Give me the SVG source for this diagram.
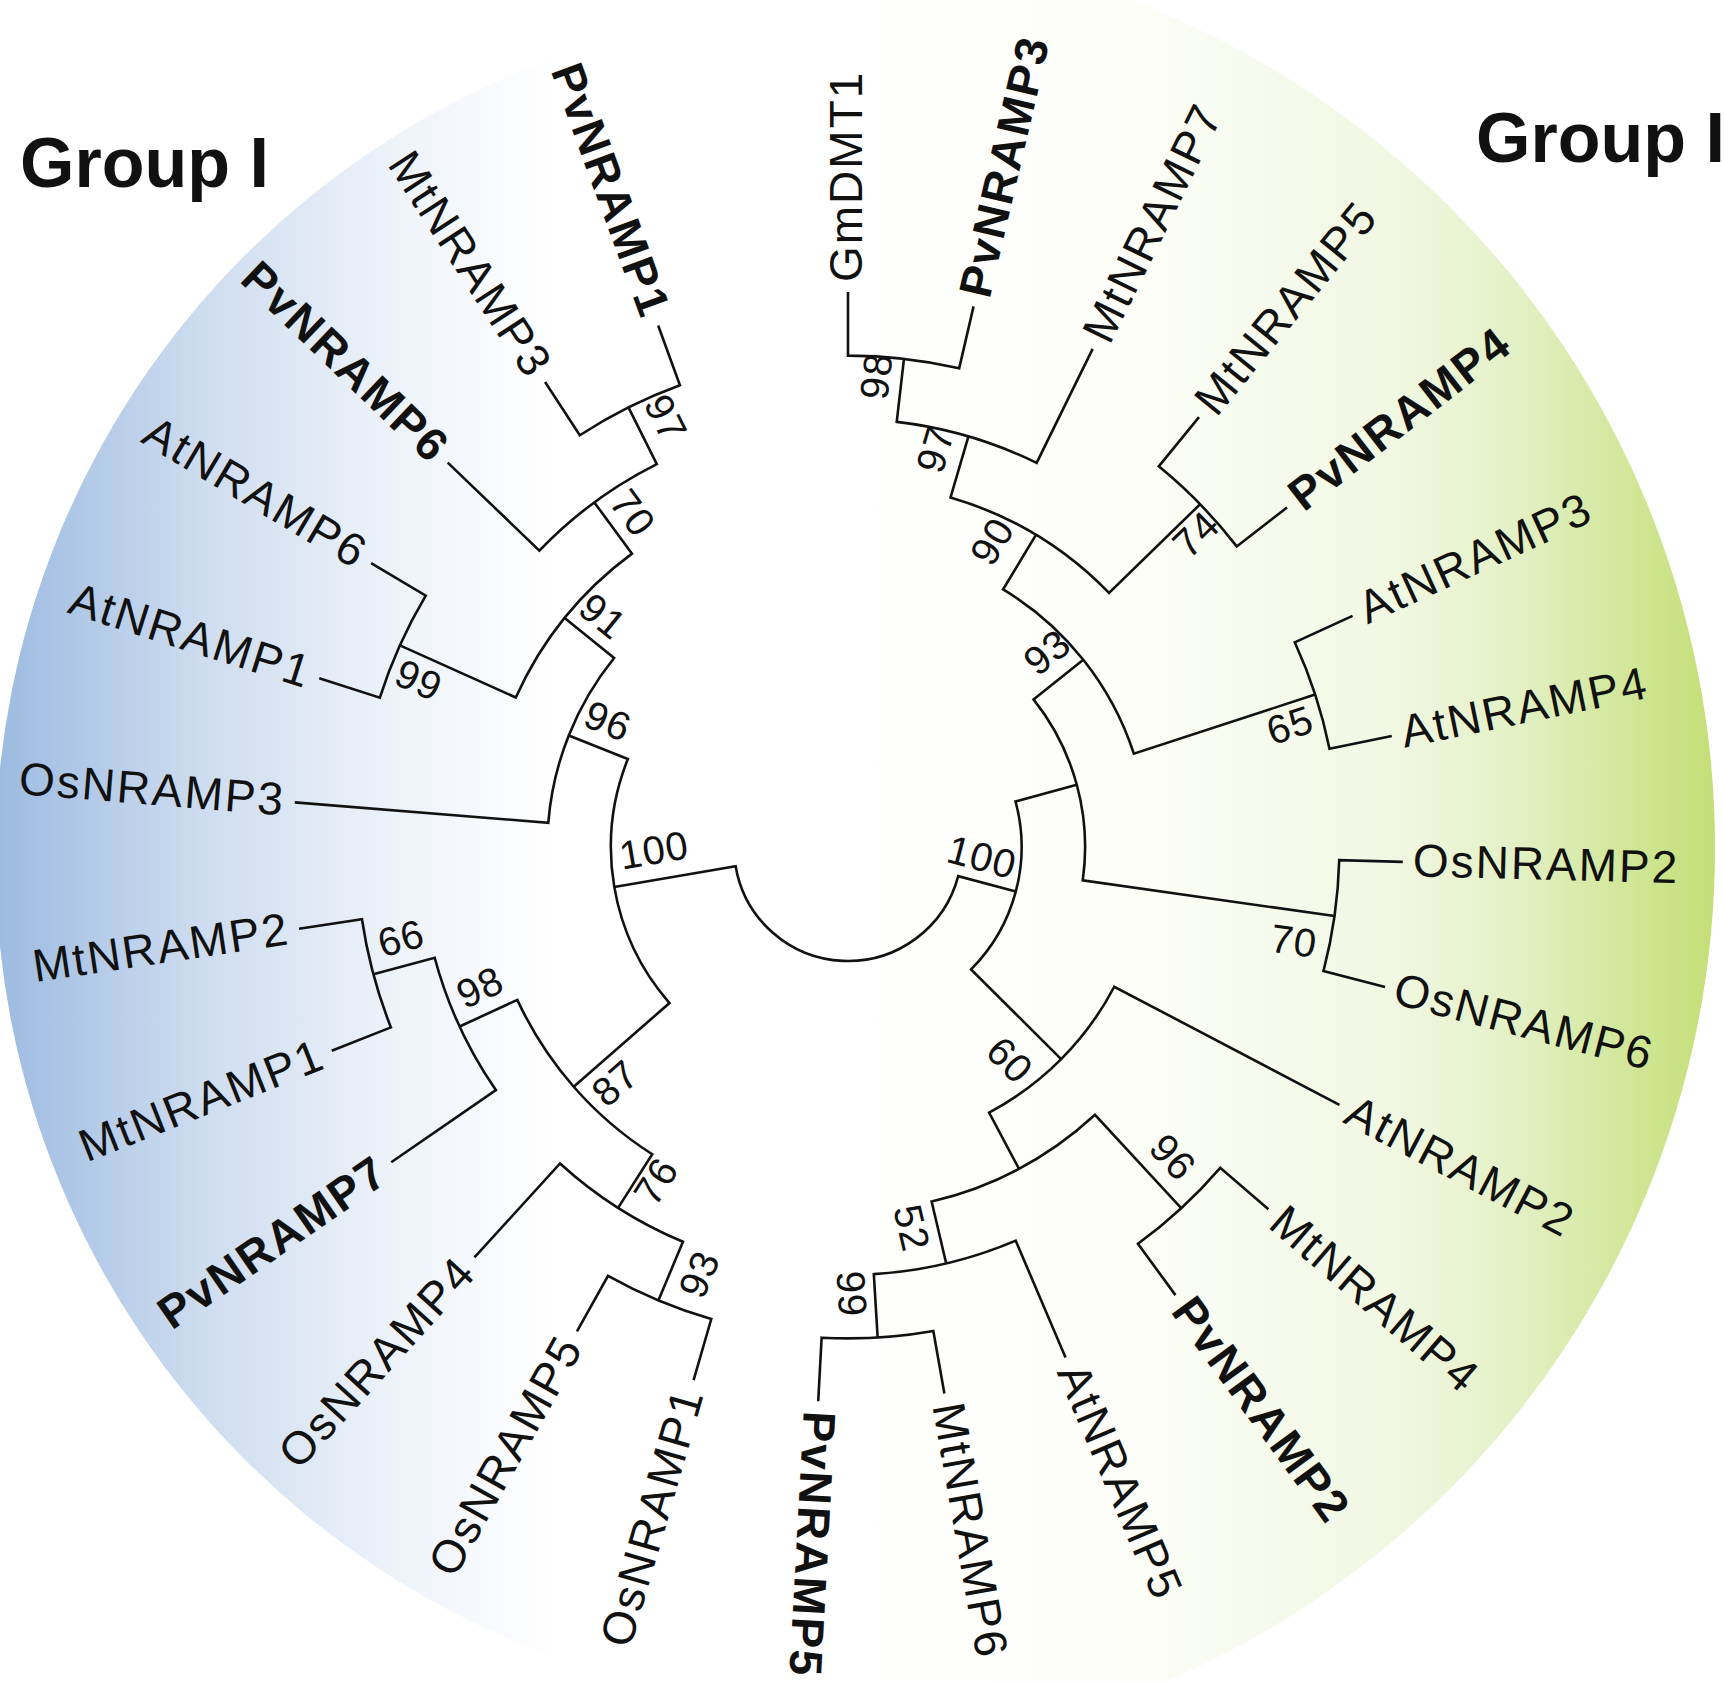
<svg xmlns="http://www.w3.org/2000/svg" width="1724" height="1681" viewBox="0 0 1724 1681">
<defs>
<linearGradient id="gBlue" gradientUnits="userSpaceOnUse" x1="0" y1="0" x2="846" y2="0">
<stop offset="0" stop-color="#9dbbe1"/>
<stop offset="0.236" stop-color="#cddcef"/>
<stop offset="0.47" stop-color="#eef3fa"/>
<stop offset="0.66" stop-color="#ffffff"/>
<stop offset="1" stop-color="#ffffff"/>
</linearGradient>
<linearGradient id="gGreen" gradientUnits="userSpaceOnUse" x1="808" y1="0" x2="1720" y2="0">
<stop offset="0" stop-color="#ffffff"/>
<stop offset="0.33" stop-color="#fdfefa"/>
<stop offset="0.65" stop-color="#f0f7e1"/>
<stop offset="0.78" stop-color="#e3f0c4"/>
<stop offset="0.978" stop-color="#c6e07c"/>
<stop offset="1" stop-color="#c2de74"/>
</linearGradient>
<style>
.br{fill:none;stroke:#111;stroke-width:2.6;stroke-linejoin:miter}
.lf{font-family:"Liberation Sans",Arial,sans-serif;font-size:46px;letter-spacing:2px;fill:#111}
.r{text-anchor:start}
.l{text-anchor:end}
.pv{font-weight:bold}
.bs{font-family:"Liberation Sans",Arial,sans-serif;font-size:40px;letter-spacing:1px;fill:#111;text-anchor:middle}
.grp{font-family:"Liberation Sans",Arial,sans-serif;font-size:70px;font-weight:bold;fill:#111}
</style>
</defs>
<rect width="1724" height="1681" fill="#ffffff"/>
<path d="M846,6.5 A851,851 0 0 0 846,1708.5 Z" fill="url(#gBlue)"/>
<path d="M808,-59 A907,907 0 0 1 808,1755 Z" fill="url(#gGreen)"/>

<g id="group-left"><text class="grp" x="20" y="187">Group I</text></g>
<g id="group-right"><text class="grp" x="1476" y="162">Group I</text></g>

<g transform="translate(848,847)">
<g id="connectors">
<path class="br" d="M167.82,44.4 L110.21,29.16 A114,114 0 0 1 -112.37,19.19 L-233.72,39.91"/>
<path class="br" d="M228.78,-62.25 L167.51,-45.58 A173.6,173.6 0 0 1 123.05,122.45 L213.15,212.11"/>
<path class="br" d="M235.31,-187.24 L185.54,-147.64 A237.1,237.1 0 0 1 234.75,33.32 L486.52,69.07"/>
<path class="br" d="M187.95,-312.07 L155.14,-257.59 A300.7,300.7 0 0 1 285.85,-93.31 L467.13,-152.48"/>
<path class="br" d="M120.45,-410.59 L102.55,-349.57 A364.3,364.3 0 0 1 261.04,-254.11 L352.11,-342.77"/>
<path class="br" d="M55.97,-488.2 L48.73,-425.11 A427.9,427.9 0 0 1 188.63,-384.08 L244.66,-498.17"/>
<path class="br" d="M0,-555 L0,-491.4 A491.4,491.4 0 0 1 111.17,-478.66 L125.56,-540.61"/>
<path class="br" d="M351,-429.91 L310.78,-380.64 A491.4,491.4 0 0 1 388.73,-300.59 L439.04,-339.5"/>
<path class="br" d="M504.57,-231.17 L446.75,-204.68 A491.4,491.4 0 0 1 481.47,-98.29 L543.78,-111.02"/>
<path class="br" d="M554.8,14.9 L491.22,13.19 A491.4,491.4 0 0 1 475.5,123.99 L537.04,140.04"/>
<path class="br" d="M491.43,257.9 L266.26,139.73 A300.7,300.7 0 0 1 141.08,265.55 L170.91,321.72"/>
<path class="br" d="M333.18,361.2 L247.01,267.78 A364.3,364.3 0 0 1 83.62,354.57 L98.22,416.47"/>
<path class="br" d="M420.42,362.32 L372.24,320.8 A491.4,491.4 0 0 1 289.93,396.76 L327.46,448.11"/>
<path class="br" d="M217.54,510.59 L167.72,393.66 A427.9,427.9 0 0 1 25.82,427.12 L29.66,490.51"/>
<path class="br" d="M96.38,546.57 L85.33,483.94 A491.4,491.4 0 0 1 -26.37,490.69 L-29.79,554.2"/>
<path class="br" d="M-274.31,239.72 L-178.53,156.02 A237.1,237.1 0 0 1 -220.17,-87.97 L-279.24,-111.57"/>
<path class="br" d="M-229.91,360.89 L-195.74,307.25 A364.3,364.3 0 0 1 -330.68,152.86 L-388.41,179.55"/>
<path class="br" d="M-189.55,453.37 L-165.06,394.78 A427.9,427.9 0 0 1 -288,316.47 L-373.55,410.47"/>
<path class="br" d="M-154.42,533.08 L-136.72,471.99 A491.4,491.4 0 0 1 -239.96,428.82 L-271.02,484.33"/>
<path class="br" d="M-456.75,315.28 L-352.15,243.08 A427.9,427.9 0 0 1 -413.32,110.75 L-474.66,127.18"/>
<path class="br" d="M-516.26,203.74 L-457.1,180.39 A491.4,491.4 0 0 1 -486.05,72.31 L-548.96,81.67"/>
<path class="br" d="M-553.2,-44.66 L-299.73,-24.19 A300.7,300.7 0 0 1 -233.91,-188.97 L-283.38,-228.93"/>
<path class="br" d="M-448.12,-201.68 L-332.21,-149.51 A364.3,364.3 0 0 1 -215.99,-293.37 L-253.69,-344.58"/>
<path class="br" d="M-528.75,-168.67 L-468.16,-149.34 A491.4,491.4 0 0 1 -422.24,-251.38 L-476.89,-283.92"/>
<path class="br" d="M-400.29,-384.43 L-308.62,-296.39 A427.9,427.9 0 0 1 -191.17,-382.83 L-219.54,-439.64"/>
<path class="br" d="M-302.92,-465.05 L-268.21,-411.75 A491.4,491.4 0 0 1 -168.07,-461.76 L-189.82,-521.53"/>
</g>

<g id="leaf-GmDMT1"><text class="lf r" transform="rotate(-90)" x="565" y="14">GmDMT1</text></g>
<g id="leaf-PvNRAMP3"><text class="lf r pv" transform="rotate(-76.923)" x="565" y="14">PvNRAMP3</text></g>
<g id="leaf-MtNRAMP7"><text class="lf r" transform="rotate(-63.846)" x="565" y="14">MtNRAMP7</text></g>
<g id="leaf-MtNRAMP5"><text class="lf r" transform="rotate(-50.769)" x="565" y="14">MtNRAMP5</text></g>
<g id="leaf-PvNRAMP4"><text class="lf r pv" transform="rotate(-37.692)" x="565" y="14">PvNRAMP4</text></g>
<g id="leaf-AtNRAMP3"><text class="lf r" transform="rotate(-24.615)" x="565" y="14">AtNRAMP3</text></g>
<g id="leaf-AtNRAMP4"><text class="lf r" transform="rotate(-11.538)" x="565" y="14">AtNRAMP4</text></g>
<g id="leaf-OsNRAMP2"><text class="lf r" transform="rotate(1.538)" x="565" y="14">OsNRAMP2</text></g>
<g id="leaf-OsNRAMP6"><text class="lf r" transform="rotate(14.615)" x="565" y="14">OsNRAMP6</text></g>
<g id="leaf-AtNRAMP2"><text class="lf r" transform="rotate(27.692)" x="565" y="14">AtNRAMP2</text></g>
<g id="leaf-MtNRAMP4"><text class="lf r" transform="rotate(40.769)" x="565" y="14">MtNRAMP4</text></g>
<g id="leaf-PvNRAMP2"><text class="lf r pv" transform="rotate(53.846)" x="565" y="14">PvNRAMP2</text></g>
<g id="leaf-AtNRAMP5"><text class="lf r" transform="rotate(66.923)" x="565" y="14">AtNRAMP5</text></g>
<g id="leaf-MtNRAMP6"><text class="lf r" transform="rotate(80)" x="565" y="14">MtNRAMP6</text></g>
<g id="leaf-PvNRAMP5"><text class="lf r pv" transform="rotate(93.077)" x="565" y="14">PvNRAMP5</text></g>
<g id="leaf-OsNRAMP1"><text class="lf l" transform="rotate(-73.846)" x="-565" y="14">OsNRAMP1</text></g>
<g id="leaf-OsNRAMP5"><text class="lf l" transform="rotate(-60.769)" x="-565" y="14">OsNRAMP5</text></g>
<g id="leaf-OsNRAMP4"><text class="lf l" transform="rotate(-47.692)" x="-565" y="14">OsNRAMP4</text></g>
<g id="leaf-PvNRAMP7"><text class="lf l pv" transform="rotate(-34.615)" x="-565" y="14">PvNRAMP7</text></g>
<g id="leaf-MtNRAMP1"><text class="lf l" transform="rotate(-21.538)" x="-565" y="14">MtNRAMP1</text></g>
<g id="leaf-MtNRAMP2"><text class="lf l" transform="rotate(-8.462)" x="-565" y="14">MtNRAMP2</text></g>
<g id="leaf-OsNRAMP3"><text class="lf l" transform="rotate(4.615)" x="-565" y="14">OsNRAMP3</text></g>
<g id="leaf-AtNRAMP1"><text class="lf l" transform="rotate(17.692)" x="-565" y="14">AtNRAMP1</text></g>
<g id="leaf-AtNRAMP6"><text class="lf l" transform="rotate(30.769)" x="-565" y="14">AtNRAMP6</text></g>
<g id="leaf-PvNRAMP6"><text class="lf l pv" transform="rotate(43.846)" x="-565" y="14">PvNRAMP6</text></g>
<g id="leaf-MtNRAMP3"><text class="lf l" transform="rotate(56.923)" x="-565" y="14">MtNRAMP3</text></g>
<g id="leaf-PvNRAMP1"><text class="lf l pv" transform="rotate(70)" x="-565" y="14">PvNRAMP1</text></g>

<g id="node-root-right"><text class="bs" transform="translate(134,10) rotate(14.82)" y="14">100</text></g>
<g id="node-98a"><text class="bs" transform="translate(28,-471) rotate(-83.46)" y="14">98</text></g>
<g id="node-97a"><text class="bs" transform="translate(87,-398) rotate(-73.65)" y="14">97</text></g>
<g id="node-90"><text class="bs" transform="translate(144,-306) rotate(-58.94)" y="14">90</text></g>
<g id="node-74"><text class="bs" transform="translate(348,-313) rotate(-44.23)" y="14">74</text></g>
<g id="node-93a"><text class="bs" transform="translate(199,-195) rotate(-38.51)" y="14">93</text></g>
<g id="node-65"><text class="bs" transform="translate(442,-122) rotate(-18.08)" y="14">65</text></g>
<g id="node-70a"><text class="bs" transform="translate(446,94) rotate(8.08)" y="14">70</text></g>
<g id="node-60"><text class="bs" transform="translate(162,213) rotate(44.86)" y="14">60</text></g>
<g id="node-96a"><text class="bs" transform="translate(325,310) rotate(47.31)" y="14">96</text></g>
<g id="node-52"><text class="bs" transform="translate(64,381) rotate(76.73)" y="14">52</text></g>
<g id="node-99a"><text class="bs" transform="translate(4,447) rotate(86.54)" y="14">99</text></g>
<g id="node-root-left"><text class="bs" transform="translate(-194,3) rotate(-9.69)" y="14">100</text></g>
<g id="node-93b"><text class="bs" transform="translate(-149,427) rotate(-67.31)" y="14">93</text></g>
<g id="node-76"><text class="bs" transform="translate(-192,334) rotate(-57.5)" y="14">76</text></g>
<g id="node-87"><text class="bs" transform="translate(-233,236) rotate(-41.15)" y="14">87</text></g>
<g id="node-98b"><text class="bs" transform="translate(-368,140) rotate(-24.81)" y="14">98</text></g>
<g id="node-66"><text class="bs" transform="translate(-447,91) rotate(-15)" y="14">66</text></g>
<g id="node-96b"><text class="bs" transform="translate(-240,-126) rotate(21.78)" y="14">96</text></g>
<g id="node-91"><text class="bs" transform="translate(-245,-231) rotate(38.94)" y="14">91</text></g>
<g id="node-99b"><text class="bs" transform="translate(-429,-167) rotate(24.23)" y="14">99</text></g>
<g id="node-70b"><text class="bs" transform="translate(-215,-334) rotate(53.65)" y="14">70</text></g>
<g id="node-97b"><text class="bs" transform="translate(-182,-429) rotate(63.46)" y="14">97</text></g>
</g>
</svg>
